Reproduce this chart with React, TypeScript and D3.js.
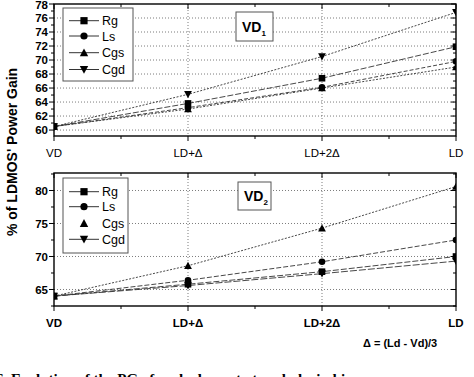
import React from "react";
import * as d3 from "d3";

const categories = ["VD", "LD+Δ", "LD+2Δ", "LD"];
const seriesNames = ["Rg", "Ls", "Cgs", "Cgd"];

// Panel VD1
const vd1Rg = [60.5, 63.8, 67.4, 71.9];
const vd1Ls = [60.5, 63.2, 66.1, 69.8];
const vd1Cgs = [60.5, 63.0, 66.0, 69.0];
const vd1Cgd = [60.5, 65.1, 70.5, 76.8];
const vd1Ticks = [60, 62, 64, 66, 68, 70, 72, 74, 76, 78];

// Panel VD2
const vd2Rg = [64, 65.8, 67.7, 70.0];
const vd2Ls = [64, 66.4, 69.2, 72.5];
const vd2Cgs = [64, 68.6, 74.3, 80.6];
const vd2Cgd = [64, 65.6, 67.4, 69.3];
const vd2Ticks = [65, 70, 75, 80];

const FONT = "'Liberation Sans', Arial, Helvetica, sans-serif";
const X0 = 54;
const X1 = 456;

const dashes: Record<string, string> = {
  Rg: "6,2",
  Ls: "4,2",
  Cgs: "2,1.5",
  Cgd: "2,1.5",
};

function Marker({ name, x, y, s = 3.6 }: { name: string; x: number; y: number; s?: number }) {
  if (name === "Rg") return <rect x={x - s} y={y - s} width={2 * s} height={2 * s} fill="#000" />;
  if (name === "Ls") return <circle cx={x} cy={y} r={s} fill="#000" />;
  if (name === "Cgs")
    return <path d={`M${x},${y - s - 0.6}L${x + s + 0.6},${y + s}L${x - s - 0.6},${y + s}Z`} fill="#000" />;
  return <path d={`M${x},${y + s + 0.6}L${x + s + 0.6},${y - s}L${x - s - 0.6},${y - s}Z`} fill="#000" />;
}

type PanelProps = {
  id: string;
  top: number;
  bottom: number;
  domain: [number, number];
  ticks: number[];
  minorStep: number;
  series: number[][];
  seriesDash: Record<string, string>;
  xLabelBold: boolean;
  label: string;
  labelBox: { x: number; y: number; w: number; h: number };
  legend: { x: number; y: number; w: number; h: number; rows: number[]; noLine?: string };
};

function Panel(p: PanelProps) {
  const x = d3.scalePoint<string>().domain(categories).range([X0, X1]);
  const y = d3.scaleLinear().domain(p.domain).range([p.bottom, p.top]);
  const minor = d3.range(Math.ceil(p.domain[0] / p.minorStep) * p.minorStep, p.domain[1] + 0.001, p.minorStep);
  const line = d3
    .line<number>()
    .x((_, i) => x(categories[i]) as number)
    .y((d) => y(d));
  const clipId = `clip-${p.id}`;
  const midXs = categories.slice(0, -1).map((c, i) => ((x(c) as number) + (x(categories[i + 1]) as number)) / 2);
  return (
    <g>
      <defs>
        <clipPath id={clipId}>
          <rect x={X0} y={p.top} width={X1 - X0} height={p.bottom - p.top} />
        </clipPath>
      </defs>
      {p.ticks
        .filter((t) => y(t) > p.top + 1 && y(t) < p.bottom - 1)
        .map((t) => (
          <line key={"g" + t} x1={X0} x2={X1} y1={y(t)} y2={y(t)} stroke="#444" strokeWidth={0.7} strokeDasharray="1,2" />
        ))}
      {categories.slice(1, -1).map((c) => (
        <line key={"v" + c} x1={x(c)} x2={x(c)} y1={p.top} y2={p.bottom} stroke="#444" strokeWidth={0.7} strokeDasharray="1,2" />
      ))}
      <g clipPath={`url(#${clipId})`}>
        {p.series.map((vals, i) => (
          <path
            key={"l" + i}
            d={line(vals) as string}
            fill="none"
            stroke="#333"
            strokeWidth={0.9}
            strokeDasharray={p.seriesDash[seriesNames[i]]}
          />
        ))}
        {p.series.map((vals, i) =>
          vals.map((v, j) => (
            <Marker key={`m${i}-${j}`} name={seriesNames[i]} x={x(categories[j]) as number} y={y(v)} s={3.3} />
          ))
        )}
      </g>
      <rect x={X0} y={p.top} width={X1 - X0} height={p.bottom - p.top} fill="none" stroke="#000" strokeWidth={1.4} />
      {minor.map((t) => {
        const isMajor = p.ticks.some((m) => Math.abs(m - t) < 1e-6);
        const len = isMajor ? 5 : 3;
        return (
          <g key={"yt" + t}>
            <line x1={X0 - len} x2={X0} y1={y(t)} y2={y(t)} stroke="#000" strokeWidth={1} />
            <line x1={X1 - len} x2={X1} y1={y(t)} y2={y(t)} stroke="#000" strokeWidth={1} />
          </g>
        );
      })}
      {p.ticks.map((t) => (
        <text
          key={"yl" + t}
          x={X0 - 6}
          y={Math.max(y(t), 4.5)}
          dy="0.36em"
          textAnchor="end"
          fontFamily={FONT}
          fontSize={11.5}
          fontWeight="bold"
        >
          {t}
        </text>
      ))}
      {categories.map((c) => (
        <g key={"xt" + c}>
          <line x1={x(c)} x2={x(c)} y1={p.bottom} y2={p.bottom + 5} stroke="#000" strokeWidth={1} />
          <line x1={x(c)} x2={x(c)} y1={p.top} y2={p.top + 5} stroke="#000" strokeWidth={1} />
        </g>
      ))}
      {midXs.map((mx, i) => (
        <g key={"xm" + i}>
          <line x1={mx} x2={mx} y1={p.bottom} y2={p.bottom + 3} stroke="#000" strokeWidth={1} />
          <line x1={mx} x2={mx} y1={p.top} y2={p.top + 3} stroke="#000" strokeWidth={1} />
        </g>
      ))}
      {categories.map((c) => (
        <text
          key={"xl" + c}
          x={x(c)}
          y={p.bottom + 21}
          textAnchor="middle"
          fontFamily={FONT}
          fontSize={11.5}
          fontWeight={p.xLabelBold ? "bold" : "normal"}
        >
          {c}
        </text>
      ))}
      <rect x={p.labelBox.x} y={p.labelBox.y} width={p.labelBox.w} height={p.labelBox.h} fill="#fff" stroke="#555" strokeWidth={1} />
      <text
        x={p.labelBox.x + 6}
        y={p.labelBox.y + p.labelBox.h / 2 + 5}
        fontFamily={FONT}
        fontSize={14}
        fontWeight="bold"
      >
        VD
        <tspan fontSize={8} dy={4}>
          {p.label}
        </tspan>
      </text>
      <rect x={p.legend.x} y={p.legend.y} width={p.legend.w} height={p.legend.h} fill="#fff" stroke="#555" strokeWidth={1} />
      {seriesNames.map((n, i) => {
        const ly = p.legend.rows[i];
        const lx = p.legend.x;
        return (
          <g key={"lg" + n}>
            {p.legend.noLine !== n && (
              <line x1={lx + 6} x2={lx + 36} y1={ly} y2={ly} stroke="#333" strokeWidth={1} />
            )}
            <Marker name={n} x={lx + 21} y={ly} s={3.6} />
            <text x={lx + 39} y={ly} dy="0.36em" fontFamily={FONT} fontSize={12.5}>
              {n}
            </text>
          </g>
        );
      })}
    </g>
  );
}

export default function App() {
  return (
    <svg width={474} height={377} style={{ position: "absolute", left: 0, top: 0, background: "#fff" }}>
      <rect width={474} height={377} fill="#fff" />
      <Panel
        id="p1"
        top={4}
        bottom={136}
        domain={[59.15, 78]}
        ticks={vd1Ticks}
        minorStep={1}
        series={[vd1Rg, vd1Ls, vd1Cgs, vd1Cgd]}
        seriesDash={dashes}
        xLabelBold={false}
        label="1"
        labelBox={{ x: 236, y: 12, w: 37, h: 29 }}
        legend={{ x: 63, y: 8, w: 70, h: 73, rows: [20.7, 36, 52.7, 69.5] }}
      />
      <Panel
        id="p2"
        top={173}
        bottom={306}
        domain={[62.5, 82.65]}
        ticks={vd2Ticks}
        minorStep={2.5}
        series={[vd2Rg, vd2Ls, vd2Cgs, vd2Cgd]}
        seriesDash={{ Rg: "6,2", Ls: "5,2", Cgs: "2,1.5", Cgd: "7,2" }}
        xLabelBold={true}
        label="2"
        labelBox={{ x: 238, y: 182, w: 33, h: 28 }}
        legend={{ x: 63, y: 178, w: 65, h: 75, rows: [191.7, 206.7, 223.3, 239.3], noLine: "Cgs" }}
      />
      <text
        transform="translate(17,152) rotate(-90)"
        textAnchor="middle"
        fontFamily={FONT}
        fontSize={14}
        fontWeight="bold"
      >
        % of LDMOS' Power Gain
      </text>
      <text x={363} y={347} fontFamily={FONT} fontSize={11} fontWeight="bold">
        Δ = (Ld - Vd)/3
      </text>
      <text x={-4} y={384} fontFamily="'Liberation Serif', 'DejaVu Serif', serif" fontSize={15} fontWeight="bold">
        6.   Evolution  of  the  PG  of  each  element  at  each  drain  bias
      </text>
    </svg>
  );
}
